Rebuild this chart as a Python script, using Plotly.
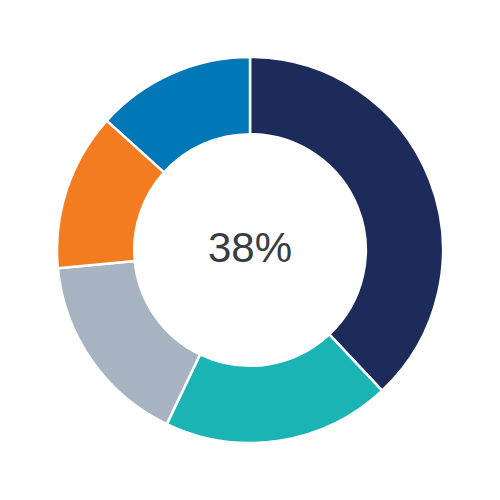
import plotly.graph_objects as go

labels = ["Navy", "Teal", "Gray", "Orange", "Blue"]
values = [38, 19.1, 16.4, 13.2, 13.3]
colors = ["#1c2b5a", "#1bb4b4", "#a8b3c2", "#f47c20", "#0077b6"]
center_text = "38%"

fig = go.Figure(go.Pie(
    labels=labels,
    values=values,
    hole=0.6,
    sort=False,
    direction="clockwise",
    rotation=0,
    marker=dict(colors=colors, line=dict(color="#ffffff", width=2.5)),
    textinfo="none",
    hoverinfo="label+percent",
    showlegend=False,
))

fig.add_annotation(
    text=center_text, x=0.5, y=0.5, xref="paper", yref="paper",
    showarrow=False, yshift=3,
    font=dict(family="Liberation Sans, Arial", size=42, color="#383d45"),
)

# page adds an 8px offset, so shift the domain up-left
fig.update_layout(
    width=500, height=500,
    margin=dict(l=49, r=65, t=49, b=65),
    paper_bgcolor="#ffffff",
    plot_bgcolor="#ffffff",
)

fig.write_html("out.html")
